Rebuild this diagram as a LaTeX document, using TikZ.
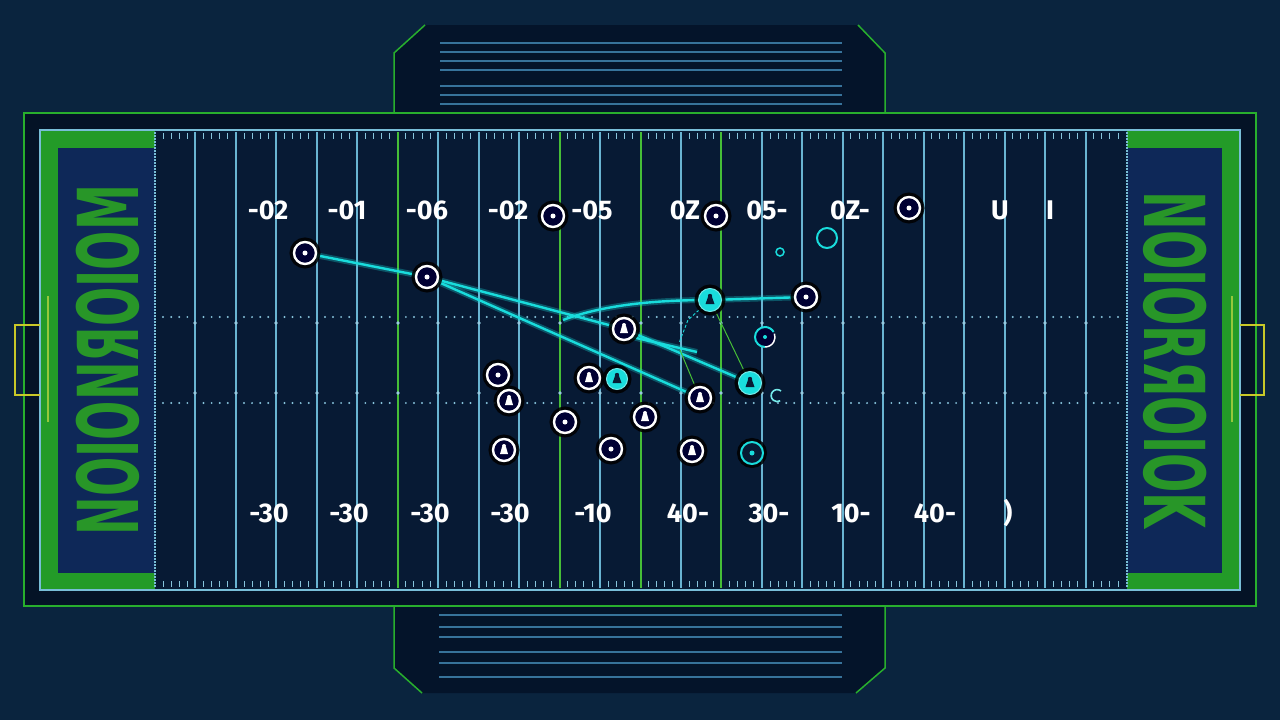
\documentclass[tikz,border=0pt]{standalone}
\usepackage{fontspec}
\newfontfamily\numfont{Fira Sans}
\newfontfamily\ezfont{DejaVu Sans}
\definecolor{bgc}{RGB}{10,36,62}
\definecolor{darkc}{RGB}{4,19,38}
\definecolor{fieldc}{RGB}{7,26,52}
\definecolor{borderc}{RGB}{120,190,215}
\definecolor{yardc}{RGB}{105,180,210}
\definecolor{greenl}{RGB}{70,190,55}
\definecolor{outerg}{RGB}{40,175,45}
\definecolor{ezgreen}{RGB}{35,155,40}
\definecolor{eznavy}{RGB}{14,40,88}
\definecolor{eztext}{RGB}{40,150,40}
\definecolor{standc}{RGB}{4,20,42}
\definecolor{stripec}{RGB}{55,115,155}
\definecolor{cyanc}{RGB}{25,220,220}
\definecolor{goalc}{RGB}{200,200,40}
\definecolor{postc}{RGB}{150,200,60}
\begin{document}
\begin{tikzpicture}[x=1pt,y=-1pt,
  num/.style={text=white, font=\numfont\bfseries\fontsize{27}{27}\selectfont, inner sep=0pt},
  eztxt/.style={text=eztext, font=\ezfont\bfseries\fontsize{84}{84}\selectfont, inner sep=0pt},
  standline/.style={outerg, line width=1.5pt},
  stripe/.style={stripec, line width=2pt},
  yardline/.style={yardc, line width=1.9pt},
  greenline/.style={greenl, line width=1.9pt},
  wpl/.style={circle, minimum size=22pt, inner sep=0pt, fill=black!80!blue, draw=white, line width=2.4pt,
     preaction={draw=black, line width=9pt, draw opacity=0.85}},
  wdot/.style={wpl, path picture={\fill[white] (path picture bounding box.center) circle (2.5);}},
  wbell/.style={wpl, path picture={
     \fill[white] ([shift={(0,-4)}]path picture bounding box.center) circle (2);
     \fill[white] ([shift={(-4,4)}]path picture bounding box.center) -- ++(8,0) -- ++(-2,-7) -- ++(-4,0) -- cycle;}},
  cpl/.style={circle, minimum size=23pt, inner sep=0pt, fill=cyanc, draw=cyanc!60!white, line width=1pt,
     preaction={draw=black, line width=8pt, draw opacity=0.85},
     path picture={
     \fill[fieldc] ([shift={(0,-4)}]path picture bounding box.center) circle (2.2);
     \fill[fieldc] ([shift={(-4.5,4)}]path picture bounding box.center) -- ++(9,0) -- ++(-2.5,-7) -- ++(-4,0) -- cycle;}},
  cring/.style={circle, inner sep=0pt, draw=cyanc, line width=2pt},
  route/.style={draw=cyanc, line width=2.4pt, preaction={draw=cyanc, draw opacity=0.3, line width=6pt}},
  thing/.style={draw=greenl, line width=1pt},
  thinc/.style={draw=cyanc, line width=0.9pt, dash pattern=on 3pt off 2pt}
]
\useasboundingbox (0,0) rectangle (1280,720);
\fill[bgc] (0,0) rectangle (1280,720);
% stands
\fill[standc] (394,113) -- (394,53) -- (425,25) -- (858,25) -- (885,53) -- (885,113) -- cycle;
\draw[standline] (394,113) -- (394,53) -- (425,25);
\draw[standline] (858,25) -- (885,53) -- (885,113);
\foreach \y in {43,52,61,70,86,95,104} \draw[stripe] (440,\y) -- (842,\y);
\fill[standc] (394,606) -- (394,668) -- (422,693) -- (856,693) -- (885,668) -- (885,606) -- cycle;
\draw[standline] (394,606) -- (394,668) -- (422,693);
\draw[standline] (856,693) -- (885,668) -- (885,606);
\foreach \y in {615,627,637,652,663,677} \draw[stripe] (439,\y) -- (842,\y);
% outer frame
\fill[darkc] (24,113) rectangle (1256,606);
\draw[outerg, line width=2pt] (24,113) rectangle (1256,606);
% field
\fill[fieldc] (40,130) rectangle (1240,590);
% end zones
\fill[ezgreen] (41,131) rectangle (155,589);
\fill[eznavy] (58,148) rectangle (155,573);
\fill[ezgreen] (1127,131) rectangle (1239,589);
\fill[eznavy] (1127,148) rectangle (1222,573);
\draw[borderc, line width=2pt] (40,130) rectangle (1240,590);
\node[eztxt, rotate=90, xscale=0.55] (ezl) at (108,360) {NOIONЯOIOM};
\node[eztxt, rotate=-90, xscale=0.55] (ezr) at (1175,360) {NOIORЯOIOK};
% goal posts
\draw[goalc, line width=1.6pt] (40,325) -- (15,325) -- (15,395) -- (40,395);
\draw[postc, line width=1.6pt] (48,296) -- (48,422);
\draw[goalc, line width=1.6pt] (1240,325) -- (1264,325) -- (1264,395) -- (1240,395);
\draw[postc, line width=1.6pt] (1232,296) -- (1232,422);
% end lines
\draw[borderc, line width=1.5pt, dash pattern=on 1.5pt off 1.5pt] (155,132) -- (155,588);
\draw[borderc, line width=1.5pt, dash pattern=on 1.5pt off 1.5pt] (1127,132) -- (1127,588);
% yard lines
\foreach \k in {1,2,3,4,5,7,8,9,11,13,15,16,17,18,19,20,21,22,23} {
  \draw[yardline] ({round(155+40.46*\k)},132) -- ({round(155+40.46*\k)},588);
}
\foreach \k in {6,10,12,14} {
  \draw[greenline] ({round(155+40.46*\k)},132) -- ({round(155+40.46*\k)},588);
}
\foreach \k in {1,...,23} {
  \fill[yardc!70!white] ({round(155+40.46*\k)},323) circle (1.8);
  \fill[yardc!70!white] ({round(155+40.46*\k)},393) circle (1.8);
}
\foreach \k in {0,...,23} {
  \foreach \j in {1,...,4} {
    \draw[yardc!80!white, line width=0.9pt] ({155+40.46*\k+8.09*\j},133) -- ++(0,6);
    \draw[yardc!80!white, line width=0.9pt] ({155+40.46*\k+8.09*\j},581) -- ++(0,6);
    \fill[yardc!80!white] ({155+40.46*\k+8.09*\j},317) circle (1.1);
    \fill[yardc!80!white] ({155+40.46*\k+8.09*\j},403) circle (1.1);
  }
}
% numbers
\node[num] (t1) at (268,210) {-02};
\node[num] (t2) at (347,210) {-01};
\node[num] (t3) at (427,210) {-06};
\node[num] (t4) at (508,210) {-02};
\node[num] (t5) at (592,210) {-05};
\node[num] (t6) at (685,210) {0Z};
\node[num] (t7) at (767,210) {05-};
\node[num] (t8) at (850,210) {0Z-};
\node[num] (t9) at (1000,210) {U};
\node[num] (t10) at (1050,210) {I};
\node[num] (b1n) at (269,513) {-30};
\node[num] (b2n) at (349,513) {-30};
\node[num] (b3n) at (430,513) {-30};
\node[num] (b4n) at (510,513) {-30};
\node[num] (b5n) at (593,513) {-10};
\node[num] (b6n) at (688,513) {40-};
\node[num] (b7n) at (769,513) {30-};
\node[num] (b8n) at (851,513) {10-};
\node[num] (b9n) at (935,513) {40-};
\node[num] (b10n) at (1008,513) {)};
% player positions
\coordinate (w1) at (305,253);
\coordinate (w2) at (427,277);
\coordinate (w6) at (806,297);
\coordinate (w7) at (624,329);
\coordinate (w13) at (700,398);
\coordinate (c1) at (710,300);
\coordinate (c3) at (750,383);
\coordinate (b1) at (563,320);
\coordinate (e1) at (697,352);
\coordinate (g1) at (680,350);
\coordinate (d1) at (688,320);
\coordinate (d2) at (679,343);
% routes
\draw[route] (w1) -- (w2);
\draw[route] (w2) -- (w7);
\draw[route] (w2) -- (w13);
\draw[route] (b1) .. controls (600,306) and (650,300) .. (c1);
\draw[route] (c1) -- (w6);
\draw[route] (w7) -- (c3);
\draw[route] ([shift={(8,8)}]w7) -- (e1);
\draw[thing] (c1) -- (c3);
\draw[thing] (g1) -- (w13);
\draw[thinc] (c1) -- (d1) -- (d2);
% players
\node[wdot] (p1) at (w1) {};
\node[wdot] (p2) at (w2) {};
\node[wdot] (p3) at (553,216) {};
\node[wdot] (p4) at (716,216) {};
\node[wdot] (p5) at (909,208) {};
\node[wdot] (p6) at (w6) {};
\node[wbell] (p7) at (w7) {};
\node[wdot] (p8) at (498,375) {};
\node[wbell] (p9) at (509,401) {};
\node[wbell] (p10) at (589,378) {};
\node[wdot] (p11) at (565,422) {};
\node[wbell] (p12) at (645,417) {};
\node[wbell] (p13) at (w13) {};
\node[wbell] (p14) at (504,450) {};
\node[wdot] (p15) at (611,449) {};
\node[wbell] (p16) at (692,451) {};
\node[cpl] (q1) at (c1) {};
\node[cpl, minimum size=21pt] (q2) at (617,379) {};
\node[cpl] (q3) at (c3) {};
\node[circle, minimum size=22pt, inner sep=0pt, fill=fieldc, draw=cyanc, line width=2pt,
  preaction={draw=black, line width=8pt, draw opacity=0.85},
  path picture={\fill[cyanc] (path picture bounding box.center) circle (2.5);}] (q4) at (752,453) {};
\node[cring, minimum size=20pt] (q5) at (827,238) {};
\node[cring, minimum size=8pt, line width=1.5pt] (q6) at (780,252) {};
\node[circle, minimum size=20pt, inner sep=0pt, fill=black!80!blue] (q7) at (765,337) {};
\draw[cyanc, line width=2pt] ([shift={(0,10)}]q7.center) arc (90:330:10);
\draw[white, line width=1.5pt] ([shift={(0,10)}]q7.center) arc (90:-20:10);
\fill[cyanc] (q7.center) circle (2);
\coordinate (q8) at (777,396);
\draw[cyanc!60!white, line width=1.6pt] ([shift={(4,-5)}]q8) arc (-50:-300:6);
\end{tikzpicture}
\end{document}
